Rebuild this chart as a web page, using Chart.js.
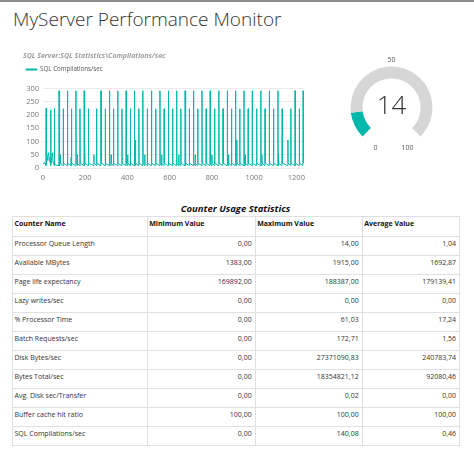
<!DOCTYPE html>
<html>
<head>
<meta charset="utf-8">
<script src="https://cdn.jsdelivr.net/npm/chart.js@4.4.1/dist/chart.umd.min.js"></script>
<style>
  html, body { margin: 0; padding: 0; background: #fff; }
  body { width: 474px; height: 469px; position: relative; overflow: hidden; font-family: "Open Sans", sans-serif; color: #333; }
  .topbar { position: absolute; left: 0; top: 0; width: 474px; height: 2px; background: #8c8c8c; }
  h1 { position: absolute; left: 13px; top: 9.5px; margin: 0; font-size: 19px; font-weight: 300; line-height: 1; color: #333; white-space: nowrap; }
  #lineWrap { position: absolute; left: 0; top: 42px; width: 310px; height: 147px; }
  #gaugeWrap { position: absolute; left: 330px; top: 45px; width: 124px; height: 115px; }
  .tableTitle { position: absolute; left: 12px; top: 204px; width: 447px; text-align: center; font-weight: bold; font-style: italic; font-size: 9.5px; color: #111; line-height: 1; }
  table { position: absolute; left: 12px; top: 216px; width: 447px; border-collapse: collapse; table-layout: fixed; font-size: 7px; }
  th, td { border: 1px solid #e0e0e0; padding: 2px 3px 0 1.5px; vertical-align: top; line-height: 10px; white-space: nowrap; overflow: hidden; }
  th { text-align: left; font-weight: bold; color: #111; }
  td { color: #333; }
  td.num { text-align: right; }
  thead tr { height: 20px; }
  tbody tr { height: 19px; }
</style>
</head>
<body>
<div class="topbar"></div>
<h1>MyServer Performance Monitor</h1>
<div id="lineWrap"><canvas id="lineChart"></canvas></div>
<div id="gaugeWrap"><canvas id="gaugeChart"></canvas></div>
<div class="tableTitle">Counter Usage Statistics</div>
<table id="stats">
  <colgroup><col style="width:134.7px"><col style="width:108px"><col style="width:107px"><col style="width:97.3px"></colgroup>
  <thead><tr><th>Counter Name</th><th>Minimum Value</th><th>Maximum Value</th><th>Average Value</th></tr></thead>
  <tbody></tbody>
</table>
<script>
// SQL Compilations/sec - sample number vs value
const BASE_LOW = 9;    // 스파이크 직전 바닥값
const BASE_HIGH = 18;  // 스파이크 직후 바닥값
const LAST_SAMPLE = 1235;
// start-up noise
const warmSample = [0, 5, 10, 19, 22, 26, 30, 33, 41, 45, 48, 58];
const warmValue = [15, 20, 18, 30, 45, 58, 25, 40, 30, 57, 22, 12];
// spikes (sample, value)
const spikeSample = [
  15, 37, 54, 76, 96, 116, 136, 156, 175, 195, 215, 254, 275, 295, 315, 334, 354, 374, 394, 414,
  433, 454, 473, 494, 514, 534, 554, 574, 594, 614, 633, 653, 673, 693, 713, 733, 753, 773, 792, 813,
  833, 853, 873, 893, 912, 932, 952, 972, 991, 1012, 1032, 1052, 1072, 1092, 1113, 1133, 1174, 1194, 1214, 1232,
  81, 163, 241, 323, 401, 482, 562, 643, 721, 800, 879, 957, 1037, 1116, 1196,
  198, 438, 676, 918, 1160, 133
];
const spikeValue = [
  226, 220, 226, 292, 224, 292, 224, 292, 224, 292, 224, 224, 292, 224, 292, 224, 292, 224, 292, 224,
  292, 224, 292, 224, 292, 224, 292, 224, 292, 224, 292, 224, 292, 224, 292, 224, 292, 224, 292, 224,
  292, 224, 292, 224, 292, 224, 292, 224, 292, 224, 292, 224, 292, 224, 292, 224, 224, 292, 224, 292,
  50, 50, 50, 50, 50, 50, 50, 50, 50, 50, 50, 50, 50, 50, 50,
  106, 106, 106, 106, 106, 40
];
const xTickValues = [0, 200, 400, 600, 800, 1000, 1200];
const yTickStep = 50;
const yMax = 300;

// gauge
const gaugeMin = 0;
const gaugeMid = 50;
const gaugeMax = 100;
const gaugeValue = 14;

// table
const counterNames = ['Processor Queue Length', 'Available MBytes', 'Page life expectancy', 'Lazy writes/sec', '% Processor Time',
  'Batch Requests/sec', 'Disk Bytes/sec', 'Bytes Total/sec', 'Avg. Disk sec/Transfer', 'Buffer cache hit ratio', 'SQL Compilations/sec'];
const minValues = [0, 1383, 169892, 0, 0, 0, 0, 0, 0, 100, 0];
const maxValues = [14, 1915, 188387, 0, 61.03, 172.71, 27371090.83, 18354821.12, 0.02, 100, 140.08];
const avgValues = [1.04, 1692.87, 179139.41, 0, 17.24, 1.56, 240783.74, 92080.46, 0, 100, 0.46];

const TEAL = '#01B8AA';
const FONT = '"Open Sans", sans-serif';

// 선 데이터 구성
const points = [];
warmSample.forEach((s, i) => points.push({ x: s, y: warmValue[i] }));
spikeSample.forEach((s, i) => {
  points.push({ x: s - 1, y: BASE_LOW }, { x: s, y: spikeValue[i] }, { x: s + 1, y: BASE_HIGH });
});
points.push({ x: LAST_SAMPLE, y: BASE_HIGH });
points.sort((a, b) => a.x - b.x);

// 범례 아래 여백
const legendGap = {
  id: 'legendGap',
  beforeInit(chart) {
    const fit = chart.legend.fit;
    chart.legend.fit = function () { fit.call(this); this.height += 6; };
  }
};

new Chart(document.getElementById('lineChart'), {
  type: 'line',
  data: {
    datasets: [{
      label: 'SQL Compilations/sec', data: points,
      borderColor: TEAL, backgroundColor: TEAL, borderWidth: 1, pointRadius: 0, tension: 0
    }]
  },
  options: {
    animation: false, responsive: true, maintainAspectRatio: false,
    layout: { padding: { left: 23, right: 3, top: 0, bottom: 2 } },
    plugins: {
      title: {
        display: true, text: 'SQL Server:SQL Statistics\\Compilations/sec', align: 'start', color: '#a0a0a0',
        font: { family: FONT, size: 7, weight: 'bold', style: 'italic' }, padding: { top: 10, bottom: 3 }
      },
      legend: {
        align: 'start',
        labels: { boxWidth: 11, boxHeight: 1, padding: 3, color: '#555', font: { family: FONT, size: 6.2 } }
      },
      tooltip: { enabled: false }
    },
    scales: {
      x: {
        type: 'linear', min: 0, max: LAST_SAMPLE,
        afterBuildTicks(scale) { scale.ticks = xTickValues.map(v => ({ value: v })); },
        ticks: { autoSkip: false, maxRotation: 0, padding: 5, color: '#777', font: { family: FONT, size: 7.5 }, callback: v => String(v) },
        grid: { display: false, drawTicks: false }, border: { display: false }
      },
      y: {
        min: 0, max: yMax,
        ticks: { stepSize: yTickStep, padding: 4, color: '#777', font: { family: FONT, size: 7.5 } },
        grid: { color: '#ebebeb', drawTicks: false }, border: { display: false },
        afterFit(scale) { scale.width = 20; }
      }
    }
  },
  plugins: [legendGap]
});

// 게이지 라벨
const gaugeText = {
  id: 'gaugeText',
  afterDraw(chart) {
    const arc = chart.getDatasetMeta(0).data[0];
    const { x, y, outerRadius: R } = arc.getProps(['x', 'y', 'outerRadius'], true);
    const ctx = chart.ctx;
    ctx.save();
    ctx.textAlign = 'center';
    ctx.textBaseline = 'alphabetic';
    ctx.fillStyle = '#333';
    ctx.font = '300 26px ' + FONT;
    ctx.fillText(String(gaugeValue), x, y + 6.5);
    ctx.fillStyle = '#555';
    ctx.font = '7px ' + FONT;
    ctx.fillText(String(gaugeMid), x, y - R - 4.5);
    ctx.fillText(String(gaugeMin), x - 16, y + R + 1.5);
    ctx.fillText(String(gaugeMax), x + 16, y + R + 1.5);
    ctx.restore();
  }
};

new Chart(document.getElementById('gaugeChart'), {
  type: 'doughnut',
  data: {
    labels: ['value', 'rest'],
    datasets: [{ data: [gaugeValue - gaugeMin, gaugeMax - gaugeValue], backgroundColor: [TEAL, '#d6d6d6'], borderWidth: 0 }]
  },
  options: {
    animation: false, responsive: true, maintainAspectRatio: false,
    rotation: -135, circumference: 270, cutout: '71%',
    layout: { padding: { left: 20.5, right: 21.5, top: 21.5, bottom: 23.5 } },
    plugins: { legend: { display: false }, tooltip: { enabled: false } }
  },
  plugins: [gaugeText]
});

// 표 채우기
const fmt = v => v.toFixed(2).replace('.', ',');
document.querySelector('#stats tbody').innerHTML = counterNames.map((n, i) =>
  `<tr><td>${n}</td><td class="num">${fmt(minValues[i])}</td><td class="num">${fmt(maxValues[i])}</td><td class="num">${fmt(avgValues[i])}</td></tr>`
).join('');
</script>
</body>
</html>
